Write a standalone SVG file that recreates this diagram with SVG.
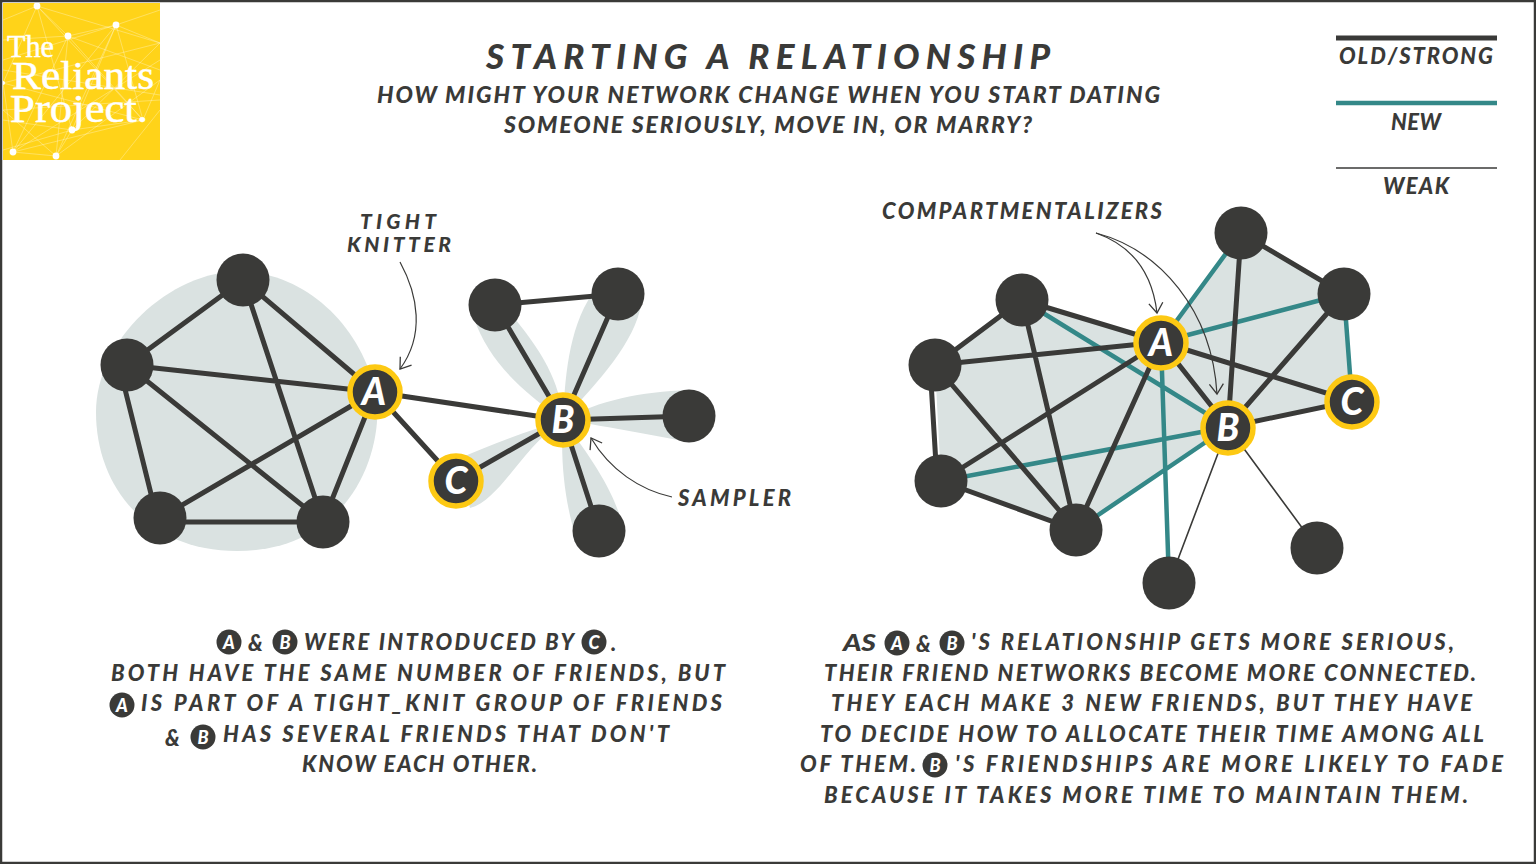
<svg xmlns="http://www.w3.org/2000/svg" width="1536" height="864" viewBox="0 0 1536 864">
<defs>
<marker id="chev" markerWidth="16" markerHeight="16" refX="13" refY="8" orient="auto" markerUnits="userSpaceOnUse"><path d="M3 1 L13 8 L3 15" fill="none" stroke="#3a3a38" stroke-width="1.3"/></marker>
</defs>
<style>
text{font-family:"Lato","Liberation Sans",sans-serif;font-weight:900;font-style:italic;fill:#3a3a38}
.b{font-size:22px}
.t{font-size:35px}
.s{font-size:23px}
.l{font-size:22px}
.e{stroke:#3a3a38;stroke-width:5;fill:none}
.n{stroke:#348888;stroke-width:4.5;fill:none}
.w{stroke:#3a3a38;stroke-width:1.6;fill:none}
.d{fill:#3a3a38}
.y{fill:#3a3a38;stroke:#fdc913;stroke-width:5.5}
.ltr{fill:#fff;font-size:37px;text-anchor:middle;font-weight:900}
.g{fill:#dae2e1}
.a{stroke:#3a3a38;stroke-width:1.2;fill:none;marker-end:url(#chev)}
.ic{fill:#3a3a38}
.il{fill:#fff;font-size:18px;text-anchor:middle}
.lg{stroke:#fff;stroke-opacity:.3;stroke-width:1;fill:none}
.lt{font-family:"Liberation Serif",serif;font-style:normal;font-weight:400;fill:#fff;stroke:#fff;stroke-width:.5}
</style>
<rect width="1536" height="864" fill="#fff"/>
<g id="logo">
<rect x="3" y="3" width="157" height="157" fill="#ffd319"/>
<path class="lg" d="M37 6L68 36L116 25L160 43M37 6L3 83L13 152L56 156L72 130L143 120L160 80M37 6L72 130M37 6L143 120M68 36L13 152M68 36L56 156M68 36L143 120M116 25L72 130M116 25L143 120M116 25L56 156M3 83L160 43M3 83L143 120M3 40L68 36M13 152L160 60M13 152L116 25M56 156L160 80M3 110L160 100M3 120L72 130M160 43L72 130M3 20L37 6M3 60L116 25M3 70L160 95M37 6L160 43M3 150L72 130M13 152L143 120M56 156L3 110M120 160L160 110M160 10L116 25M68 36L160 70"/>
<g fill="#fff"><circle cx="37" cy="6" r="3.4"/><circle cx="68" cy="36" r="3.4"/><circle cx="116" cy="25" r="3.4"/><circle cx="13" cy="152" r="3.4"/><circle cx="56" cy="156" r="3.4"/><circle cx="72" cy="130" r="3.4"/><circle cx="3" cy="83" r="2"/></g>
<text class="lt" x="7" y="57" font-size="31" textLength="47" lengthAdjust="spacingAndGlyphs">The</text>
<text class="lt" x="12" y="89" font-size="39" textLength="142" lengthAdjust="spacingAndGlyphs">Reliants</text>
<text class="lt" x="10" y="122" font-size="39" textLength="138" lengthAdjust="spacingAndGlyphs">Project.</text>
</g>
<g id="heading">
<text class="t" x="486" y="69" textLength="564">STARTING A RELATIONSHIP</text>
<text class="s" x="377" y="103" textLength="783">HOW MIGHT YOUR NETWORK CHANGE WHEN YOU START DATING</text>
<text class="s" x="504" y="133" textLength="528">SOMEONE SERIOUSLY, MOVE IN, OR MARRY?</text>
</g>
<g id="legend">
<line class="e" x1="1336" y1="38" x2="1497" y2="38"/><text class="l" x="1339" y="64" textLength="154">OLD/STRONG</text>
<line class="n" x1="1336" y1="103" x2="1497" y2="103"/><text class="l" x="1391" y="130" textLength="50">NEW</text>
<line class="w" x1="1336" y1="168" x2="1497" y2="168"/><text class="l" x="1383" y="194" textLength="66">WEAK</text>
</g>
<g id="left-shading">
<path class="g" d="M243 271C310 275 365 330 377 400C382 460 345 551 237 551C150 551 96 490 96 412C96 340 170 270 243 271Z"/>
<path class="g" d="M563 420C520 390 488 360 474 318L516 320C540 350 560 380 563 420Z"/>
<path class="g" d="M563 420C565 380 568 330 592 294L640 310C630 350 590 390 563 420Z"/>
<path class="g" d="M563 420C600 400 640 392 689 390L689 442C650 435 600 425 563 420Z"/>
<path class="g" d="M563 420C560 460 565 500 574 531L622 525C615 490 585 450 563 420Z"/>
<path class="g" d="M563 420C530 430 490 445 456 460L470 508C500 500 520 450 563 420Z"/>
</g>
<g id="right-shading"><path class="g" d="M1241 233L1344 294L1352 401L1228 427L1076 530L941 481L935 365L1022 300L1161 342Z"/></g>
<g id="connectors">
<path class="e" d="M243 280L127 365M243 280L375 392M243 280L323 522M127 365L375 392M119 365L157 518M127 365L323 522M160 518L375 392M160 522H323M323 522L375 392M375 392L563 420M375 392L456 481M456 481L563 420M495 305L563 420M618 294L563 420M495 305L618 294M689 416L563 420M599 531L563 420"/>
<path class="n" d="M1241 233L1161 342M1344 294L1161 342M1344 294L1352 401M1022 300L1228 427M941 481L1228 427M1076 530L1228 427M1161 342L1169 583"/>
<path class="e" d="M1022 300L935 365M1022 300L1161 342M1022 300L1076 530M935 365L1161 342M930 365L937 481M935 365L1076 530M941 481L1161 342M941 481L1076 530M1076 530L1161 342M1161 342L1228 427M1161 342L1352 401M1228 427L1352 401M1228 427L1241 233M1228 427L1344 294M1241 233L1344 294"/>
<path class="w" d="M1228 427L1169 583M1228 427L1317 548"/>
</g>
<g id="callouts">
<path class="a" d="M400 262C418 295 425 335 400 369"/>
<path class="a" d="M672 497C640 490 610 470 591 438"/>
<path class="a" d="M1096 233C1130 245 1152 270 1157 313"/>
<path class="a" d="M1096 233C1160 250 1212 310 1217 394"/>
<text class="l" x="360" y="229" textLength="76" style="font-size:21px">TIGHT</text>
<text class="l" x="347" y="252" textLength="104" style="font-size:21px">KNITTER</text>
<text class="l" x="678" y="506" textLength="113">SAMPLER</text>
<text class="l" x="882" y="219" textLength="280">COMPARTMENTALIZERS</text>
</g>
<g id="L1"><circle class="d" cx="243" cy="280" r="26.5"/></g>
<g id="L2"><circle class="d" cx="127" cy="365" r="26.5"/></g>
<g id="L3"><circle class="d" cx="160" cy="518" r="26.5"/></g>
<g id="L4"><circle class="d" cx="323" cy="522" r="26.5"/></g>
<g id="L5"><circle class="d" cx="495" cy="305" r="26.5"/></g>
<g id="L6"><circle class="d" cx="618" cy="294" r="26.5"/></g>
<g id="L7"><circle class="d" cx="689" cy="416" r="26.5"/></g>
<g id="L8"><circle class="d" cx="599" cy="531" r="26.5"/></g>
<g id="LA"><circle class="y" cx="375" cy="392" r="25"/><text class="ltr" x="374" y="405">A</text></g>
<g id="LB"><circle class="y" cx="563" cy="420" r="25"/><text class="ltr" x="563" y="433">B</text></g>
<g id="LC"><circle class="y" cx="456" cy="481" r="25"/><text class="ltr" x="456" y="494">C</text></g>
<g id="R1"><circle class="d" cx="1241" cy="233" r="26.5"/></g>
<g id="R2"><circle class="d" cx="1344" cy="294" r="26.5"/></g>
<g id="R3"><circle class="d" cx="1022" cy="300" r="26.5"/></g>
<g id="R4"><circle class="d" cx="935" cy="365" r="26.5"/></g>
<g id="R5"><circle class="d" cx="941" cy="481" r="26.5"/></g>
<g id="R6"><circle class="d" cx="1076" cy="530" r="26.5"/></g>
<g id="R7"><circle class="d" cx="1169" cy="583" r="26.5"/></g>
<g id="R8"><circle class="d" cx="1317" cy="548" r="26.5"/></g>
<g id="RA"><circle class="y" cx="1161" cy="343" r="25"/><text class="ltr" x="1161" y="356">A</text></g>
<g id="RB"><circle class="y" cx="1228" cy="428" r="25"/><text class="ltr" x="1228" y="441">B</text></g>
<g id="RC"><circle class="y" cx="1352" cy="402" r="25"/><text class="ltr" x="1352" y="415">C</text></g>
<g id="left-caption">
<circle class="ic" cx="229" cy="642" r="12.5"/><text class="il" x="229" y="648.500">A</text>
<text class="b" x="248" y="651">&amp;</text>
<circle class="ic" cx="285" cy="642" r="12.5"/><text class="il" x="285" y="648.500">B</text>
<text class="b" x="304" y="650" textLength="270">WERE INTRODUCED BY</text>
<circle class="ic" cx="594" cy="642" r="12.5"/><text class="il" x="594" y="648.500">C</text>
<text class="b" x="611" y="651">.</text>
<text class="b" x="111" y="681" textLength="614">BOTH HAVE THE SAME NUMBER OF FRIENDS, BUT</text>
<circle class="ic" cx="122" cy="705" r="12.5"/><text class="il" x="122" y="711.500">A</text>
<text class="b" x="141" y="711" textLength="581">IS PART OF A TIGHT_KNIT GROUP OF FRIENDS</text>
<text class="b" x="165" y="746">&amp;</text>
<circle class="ic" cx="203" cy="737" r="12.5"/><text class="il" x="203" y="743.500">B</text>
<text class="b" x="223" y="742" textLength="446">HAS SEVERAL FRIENDS THAT DON'T</text>
<text class="b" x="302" y="772" textLength="235">KNOW EACH OTHER.</text>
</g>
<g id="right-caption">
<text class="b" x="843" y="651" textLength="33" lengthAdjust="spacingAndGlyphs">AS</text>
<circle class="ic" cx="897" cy="643" r="12.5"/><text class="il" x="897" y="649.500">A</text>
<text class="b" x="916" y="652">&amp;</text>
<circle class="ic" cx="952" cy="643" r="12.5"/><text class="il" x="952" y="649.500">B</text>
<text class="b" x="971" y="650" textLength="483">'S RELATIONSHIP GETS MORE SERIOUS,</text>
<text class="b" x="824" y="681" textLength="652">THEIR FRIEND NETWORKS BECOME MORE CONNECTED.</text>
<text class="b" x="831" y="711" textLength="641">THEY EACH MAKE 3 NEW FRIENDS, BUT THEY HAVE</text>
<text class="b" x="820" y="742" textLength="664">TO DECIDE HOW TO ALLOCATE THEIR TIME AMONG ALL</text>
<text class="b" x="800" y="772" textLength="116">OF THEM.</text>
<circle class="ic" cx="935" cy="765" r="12.5"/><text class="il" x="935" y="771.500">B</text>
<text class="b" x="955" y="772" textLength="548">'S FRIENDSHIPS ARE MORE LIKELY TO FADE</text>
<text class="b" x="824" y="803" textLength="644">BECAUSE IT TAKES MORE TIME TO MAINTAIN THEM.</text>
</g>
<rect id="frame" x="1" y="1" width="1534" height="862" fill="none" stroke="#3a3a38" stroke-width="2.5"/>
</svg>
